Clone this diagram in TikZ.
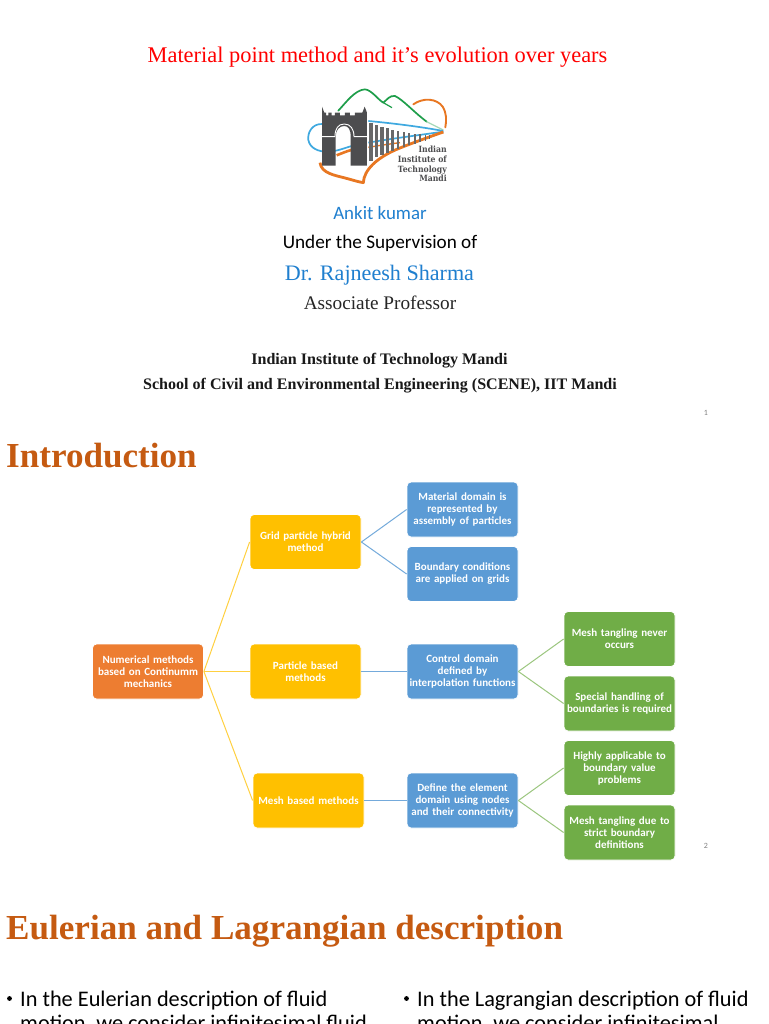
\documentclass[tikz,border=0pt]{standalone}
\usepackage{fontspec}
\setmainfont{Liberation Serif}
\newfontfamily\calb{Carlito}
\newfontfamily\logof{DejaVu Serif Condensed}
\definecolor{rust}{HTML}{C55A11}
\definecolor{orbox}{HTML}{ED7D31}
\definecolor{yebox}{HTML}{FFC000}
\definecolor{blbox}{HTML}{5B9BD5}
\definecolor{grbox}{HTML}{70AD47}
\definecolor{blname}{HTML}{1F7FCF}
\definecolor{logogrey}{HTML}{4D4D4F}
\definecolor{logoor}{HTML}{E87722}
\definecolor{logobl}{HTML}{3FA9E0}
\definecolor{logogr}{HTML}{1E9E4A}
\tikzset{
 bx/.style={draw=white,line width=.8pt,rounded corners=4pt,minimum width=111pt,minimum height=55pt,text width=110pt,inner sep=0pt,align=center,text=white,font=\calb\bfseries\fontsize{11}{12}\selectfont},
 orb/.style={bx,fill=orbox},
 yeb/.style={bx,fill=yebox},
 blb/.style={bx,fill=blbox},
 grb/.style={bx,fill=grbox},
 yl/.style={draw=yebox!75,line width=1pt},
 bl/.style={draw=blbox!85,line width=1pt},
 gl/.style={draw=grbox!70,line width=1pt},
 txt/.style={inner sep=0pt,anchor=base},
 head/.style={inner sep=0pt,anchor=base west,text=rust,font=\bfseries\fontsize{35.1}{38}\selectfont},
 body/.style={inner sep=0pt,anchor=base west,font=\calb\fontsize{22.3}{26}\selectfont},
 pg/.style={inner sep=0pt,text=gray,font=\calb\fontsize{8}{9}\selectfont},
}
\begin{document}
\begin{tikzpicture}[x=1pt,y=-1pt]
\useasboundingbox (0,0) rectangle (768,1024);
\clip (0,0) rectangle (768,1024);
\fill[white] (0,0) rectangle (768,1024);
% title page
\node[txt,text=red,font=\fontsize{22.4}{26}\selectfont] (title) at (377.5,63) {Material point method and it’s evolution over years};
% logo
\begin{scope}[shift={(280,70)},x=.3333pt,y=-.3333pt]
\draw[logogr,line width=1.7pt,line cap=round,line join=round] (175,122) .. controls (200,95) and (225,60) .. (255,58) .. controls (275,60) and (295,90) .. (310,98) .. controls (320,90) and (330,75) .. (345,78) .. controls (370,90) and (400,125) .. (440,155);
\draw[logogr!40,line width=1.2pt] (440,155) -- (490,180);
\draw[logogr,line width=1.2pt] (310,98) -- (336,113);
\draw[logoor,line width=1.9pt,line cap=round] (400,103) .. controls (430,82) and (470,85) .. (488,110) .. controls (500,130) and (500,150) .. (496,172);
\draw[logobl,line width=1.7pt] (265,153) .. controls (340,160) and (420,170) .. (490,183);
\draw[logobl,line width=1.7pt] (128,162) .. controls (95,160) and (82,190) .. (85,210) .. controls (90,235) and (115,245) .. (140,245) .. controls (170,245) and (190,235) .. (215,228);
\draw[logobl,line width=1.7pt] (265,218) .. controls (340,205) and (420,195) .. (490,185);
\draw[logoor,line width=2.6pt] (170,256) .. controls (190,248) and (205,242) .. (215,240);
\draw[logoor,line width=2.8pt,line join=round] (120,278) .. controls (124,310) and (165,316) .. (195,324) .. controls (215,329) and (235,336) .. (250,338) .. controls (252,300) and (290,262) .. (360,234) .. controls (400,218) and (450,200) .. (490,186);
\draw[logoor,line width=1.4pt] (265,232) .. controls (300,226) and (330,222) .. (360,218);
\fill[logogrey] (126,110) -- (133,128) -- (138,128) -- (138,136) -- (145,136) -- (145,128) -- (155,128) -- (155,136) -- (165,136) -- (165,128) -- (180,128) -- (180,136) -- (195,136) -- (195,128) -- (210,128) -- (210,136) -- (225,136) -- (225,128) -- (247,128) -- (254,110) -- (261,128) -- (261,287) -- (212,287) -- (212,200) .. controls (212,178) and (205,168) .. (193,168) .. controls (178,168) and (167,180) .. (167,200) -- (167,287) -- (126,287) -- cycle;
\draw[white,line width=.9pt] (126,200) -- (165,200) .. controls (165,175) and (175,162) .. (193,162) .. controls (212,162) and (222,178) .. (222,200) -- (261,200);
\foreach \x/\t/\b/\w in {273/158/272/12,290/165/262/11,306/171/255/10,322/175/248/9,338/180/242/9,354/184/236/8,372/187/231/7,388/190/226/6,405/192/221/5,420/193/216/4,436/194/212/3,450/195/208/3}
  \fill[logogrey!85] (\x-\w/2,\t) rectangle (\x+\w/2,\b);
\end{scope}
\node[inner sep=0pt,anchor=east,align=right,text=logogrey,font=\logof\bfseries\fontsize{8.6}{9.7}\selectfont] (logotext) at (447,164) {Indian\\Institute of\\Technology\\Mandi};
\node[txt,text=blname,font=\calb\fontsize{18.9}{22}\selectfont] (author) at (380,219) {Ankit kumar};
\node[txt,font=\calb\fontsize{19.2}{22}\selectfont] (under) at (380,248.5) {Under the Supervision of};
\node[txt,text=blname,font=\fontsize{22.1}{26}\selectfont] (sup) at (379.5,280) {Dr. Rajneesh Sharma};
\node[txt,text=black!85,font=\fontsize{19.25}{22}\selectfont] (assoc) at (380,309) {Associate Professor};
\node[txt,text=black!90,font=\bfseries\fontsize{16.05}{18}\selectfont] (inst) at (379.5,364.5) {Indian Institute of Technology Mandi};
\node[txt,text=black!90,font=\bfseries\fontsize{16.05}{18}\selectfont] (school) at (380,389.5) {School of Civil and Environmental Engineering (SCENE), IIT Mandi};
\node[pg] (p1) at (706,412.5) {1};
% slide 2
\node[head] (intro) at (6,467) {Introduction};
\node[orb] (root) at (148,671.5) {Numerical methods\\based on Continumm\\mechanics};
\node[yeb] (grid) at (305.5,542) {Grid particle hybrid\\method};
\node[yeb] (part) at (305.5,671.5) {Particle based\\methods};
\node[yeb] (mesh) at (308.5,800.5) {Mesh based methods};
\node[blb] (mat) at (462.5,509.5) {Material domain is\\represented by\\assembly of particles};
\node[blb] (bc) at (462.5,574) {Boundary conditions\\are applied on grids};
\node[blb] (ctrl) at (462.5,671.5) {Control domain\\defined by\\interpolation functions};
\node[blb] (def) at (462.5,800.5) {Define the element\\domain using nodes\\and their connectivity};
\node[grb] (never) at (619.5,639) {Mesh tangling never\\occurs};
\node[grb] (spec) at (619.5,703.5) {Special handling of\\boundaries is required};
\node[grb] (high) at (619.5,768) {Highly applicable to\\boundary value\\problems};
\node[grb] (tang) at (619.5,832.5) {Mesh tangling due to\\strict boundary\\definitions};
\draw[yl] (root.east) -- (grid.west);
\draw[yl] (root.east) -- (part.west);
\draw[yl] (root.east) -- (mesh.west);
\draw[bl] (grid.east) -- (mat.west);
\draw[bl] (grid.east) -- (bc.west);
\draw[bl] (part.east) -- (ctrl.west);
\draw[bl] (mesh.east) -- (def.west);
\draw[gl] (ctrl.east) -- (never.west);
\draw[gl] (ctrl.east) -- (spec.west);
\draw[gl] (def.east) -- (high.west);
\draw[gl] (def.east) -- (tang.west);
\node[pg] (p2) at (706,846) {2};
% slide 3
\node[head] (euler) at (6,939) {Eulerian and Lagrangian description};
\node[body] (e1) at (20,1006) {In the Eulerian description of fluid};
\node[body] (e2) at (20,1030) {motion, we consider infinitesimal fluid};
\node[body] (l1) at (417,1006) {In the Lagrangian description of fluid};
\node[body] (l2) at (417,1030) {motion, we consider infinitesimal};
\fill (9.5,998.5) circle (2.4pt);
\fill (406.5,998.5) circle (2.4pt);
\end{tikzpicture}
\end{document}
